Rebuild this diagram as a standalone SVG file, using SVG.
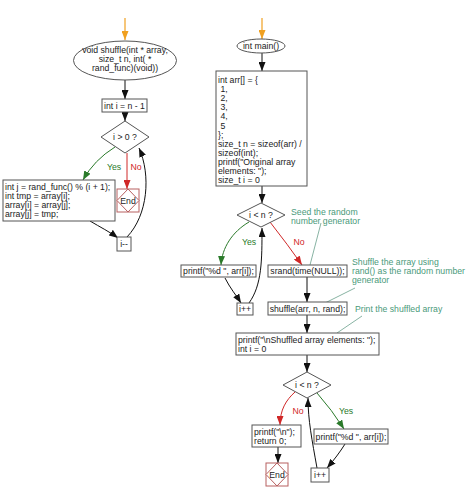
<svg xmlns="http://www.w3.org/2000/svg" width="474" height="496" viewBox="0 0 474 496">
<style>
text{font-family:"Liberation Sans",Arial,sans-serif;font-size:8.7px;fill:#222}
.c{text-anchor:middle}
.box{fill:#fff;stroke:#555;stroke-width:1}
.end{fill:#fff;stroke:#b86060;stroke-width:1}
.e{fill:none;stroke:#111;stroke-width:1}
.y{fill:none;stroke:#2a7a2a;stroke-width:1}
.n{fill:none;stroke:#d02828;stroke-width:1}
.o{fill:none;stroke:#f0a020;stroke-width:1.2}
.cm{fill:none;stroke:#7aaa98;stroke-width:0.9}
.cmt{fill:#4a9a7a}
.yl{fill:#2a7a2a}
.nl{fill:#d02828}
</style>
<defs>
<marker id="ab" markerUnits="userSpaceOnUse" markerWidth="9" markerHeight="7" refX="9" refY="3.5" orient="auto"><path d="M0,0 L9,3.5 L0,7 z" fill="#111"/></marker>
<marker id="ag" markerUnits="userSpaceOnUse" markerWidth="9" markerHeight="7" refX="9" refY="3.5" orient="auto"><path d="M0,0 L9,3.5 L0,7 z" fill="#2a7a2a"/></marker>
<marker id="ar" markerUnits="userSpaceOnUse" markerWidth="9" markerHeight="7" refX="9" refY="3.5" orient="auto"><path d="M0,0 L9,3.5 L0,7 z" fill="#d02828"/></marker>
<marker id="ao" markerUnits="userSpaceOnUse" markerWidth="9" markerHeight="7" refX="9" refY="3.5" orient="auto"><path d="M0,0 L9,3.5 L0,7 z" fill="#f0a020"/></marker>
</defs>
<rect width="474" height="496" fill="#fff"/>

<g id="connectors">
<path class="o" d="M125,18 L125,40" marker-end="url(#ao)"/>
<path class="e" d="M125,80 L125,99" marker-end="url(#ab)"/>
<path class="e" d="M125,112 L125,121" marker-end="url(#ab)"/>
<path class="y" d="M115,147 Q94,160 83,180" marker-end="url(#ag)"/>
<text class="yl c" x="114" y="170">Yes</text>
<path class="n" d="M127,153 L127,189" marker-end="url(#ar)"/>
<text class="nl c" x="136" y="170">No</text>
<path class="e" d="M90,221 C100,227 110,232 118,238" marker-end="url(#ab)"/>
<path class="e" d="M127,237 C148,215 151,175 139,148" marker-end="url(#ab)"/>

<path class="o" d="M262,18 L262,39" marker-end="url(#ao)"/>
<path class="e" d="M262,53 L262,71" marker-end="url(#ab)"/>
<path class="e" d="M262,186 L262,203" marker-end="url(#ab)"/>
<path class="y" d="M249,222 C232,232 222,248 221,265" marker-end="url(#ag)"/>
<text class="yl c" x="249" y="245">Yes</text>
<path class="n" d="M270,222 Q288,245 302,265" marker-end="url(#ar)"/>
<text class="nl c" x="299" y="245">No</text>
<path class="e" d="M225,278 C230,288 236,295 241,303" marker-end="url(#ab)"/>
<path class="e" d="M249,303 C262,285 262,260 262,228" marker-end="url(#ab)"/>
<path class="e" d="M307,277 L307,302" marker-end="url(#ab)"/>
<path class="e" d="M307,315 L307,333" marker-end="url(#ab)"/>
<path class="e" d="M307,355 L307,372" marker-end="url(#ab)"/>
<path class="n" d="M295,392 C286,400 280,410 280,425" marker-end="url(#ar)"/>
<text class="nl c" x="298" y="414">No</text>
<path class="y" d="M317,393 Q332,410 344,429" marker-end="url(#ag)"/>
<text class="yl c" x="346" y="414">Yes</text>
<path class="e" d="M278,447 L278,463" marker-end="url(#ab)"/>
<path class="e" d="M345,444 C340,452 334,460 327,468" marker-end="url(#ab)"/>
<path class="e" d="M317,468 C312,440 308,420 308,398" marker-end="url(#ab)"/>

<path class="cm" d="M321,223 L310,265"/>
<path class="cm" d="M355,288 L325,303"/>
<path class="cm" d="M362,316 L337,333"/>
</g>

<g id="n_shuffle">
<ellipse cx="125" cy="60.5" rx="51.5" ry="19.5" class="box"/>
<text class="c" x="125" y="53.3">void shuffle(int * array,</text>
<text class="c" x="125" y="62.3">size_t n, int( *</text>
<text class="c" x="125" y="71.3">rand_func)(void))</text>
</g>
<g id="n_init_i">
<rect x="102" y="99" width="45" height="13" class="box"/>
<text class="c" x="124.5" y="108.5">int i = n - 1</text>
</g>
<g id="n_cond1">
<path d="M125,121 L149,137 L125,153 L101,137 z" class="box"/>
<text class="c" x="125" y="140">i &gt; 0 ?</text>
</g>
<g id="n_end1">
<rect x="117" y="189" width="22" height="23" class="end"/>
<path d="M128,189 L139,200.5 L128,212 L117,200.5 z" class="end"/>
<text class="c" x="128" y="203.5">End</text>
</g>
<g id="n_swap">
<rect x="3" y="180" width="112" height="41" class="box"/>
<text x="5" y="189.5">int j = rand_func() % (i + 1);</text>
<text x="5" y="198.8">int tmp = array[i];</text>
<text x="5" y="208.1">array[i] = array[j];</text>
<text x="5" y="217.4">array[j] = tmp;</text>
</g>
<g id="n_dec">
<rect x="117" y="237" width="14" height="14" class="box"/>
<text class="c" x="124" y="247">i--</text>
</g>

<g id="n_main">
<ellipse cx="261" cy="46" rx="24" ry="7" class="box"/>
<text class="c" x="261" y="49">int main()</text>
</g>
<g id="n_decl">
<rect x="216" y="71" width="91" height="115" class="box"/>
<text x="218" y="83">int arr[] = {</text>
<text x="220.5" y="92.1">1,</text>
<text x="220.5" y="101.2">2,</text>
<text x="220.5" y="110.3">3,</text>
<text x="220.5" y="119.4">4,</text>
<text x="220.5" y="128.5">5</text>
<text x="218" y="137.5">};</text>
<text x="218" y="146.6">size_t n = sizeof(arr) /</text>
<text x="218" y="155.7">sizeof(int);</text>
<text x="218" y="164.8">printf("Original array</text>
<text x="218" y="173.9">elements: ");</text>
<text x="218" y="183">size_t i = 0</text>
</g>
<g id="n_cond2">
<path d="M261,203 L285,215 L261,227 L237,215 z" class="box"/>
<text class="c" x="261" y="218">i &lt; n ?</text>
</g>
<g id="n_print1">
<rect x="181" y="265" width="75" height="12" class="box"/>
<text class="c" x="218.5" y="274">printf("%d ", arr[i]);</text>
</g>
<g id="n_inc1">
<rect x="237" y="303" width="16" height="12" class="box"/>
<text class="c" x="245" y="312">i++</text>
</g>
<g id="n_srand">
<rect x="268" y="265" width="79" height="12" class="box"/>
<text class="c" x="307.5" y="274">srand(time(NULL));</text>
</g>
<g id="n_call">
<rect x="268" y="302" width="79" height="13" class="box"/>
<text class="c" x="307.5" y="311.5">shuffle(arr, n, rand);</text>
</g>
<g id="c_seed">
<text class="cmt" x="291" y="214.5">Seed the random</text>
<text class="cmt" x="291" y="223.5">number generator</text>
</g>
<g id="c_shuffle">
<text class="cmt" x="352" y="264.5">Shuffle the array using</text>
<text class="cmt" x="352" y="273.5">rand() as the random number</text>
<text class="cmt" x="352" y="282.5">generator</text>
</g>
<g id="c_print">
<text class="cmt" x="355" y="312">Print the shuffled array</text>
</g>
<g id="n_print2">
<rect x="236" y="333" width="143" height="22" class="box"/>
<text x="238" y="343">printf("\nShuffled array elements: ");</text>
<text x="238" y="352.2">int i = 0</text>
</g>
<g id="n_cond3">
<path d="M307,372 L331,385 L307,398 L283,385 z" class="box"/>
<text class="c" x="307" y="388">i &lt; n ?</text>
</g>
<g id="n_ret">
<rect x="252" y="425" width="49" height="22" class="box"/>
<text x="254" y="435">printf("\n");</text>
<text x="254" y="444">return 0;</text>
</g>
<g id="n_end2">
<rect x="266" y="463" width="22" height="23" class="end"/>
<path d="M277,463 L288,474.5 L277,486 L266,474.5 z" class="end"/>
<text class="c" x="277" y="477.5">End</text>
</g>
<g id="n_print3">
<rect x="314" y="429" width="74" height="15" class="box"/>
<text class="c" x="351" y="439.5">printf("%d ", arr[i]);</text>
</g>
<g id="n_inc2">
<rect x="311" y="468" width="18" height="14" class="box"/>
<text class="c" x="320" y="478">i++</text>
</g>
</svg>
